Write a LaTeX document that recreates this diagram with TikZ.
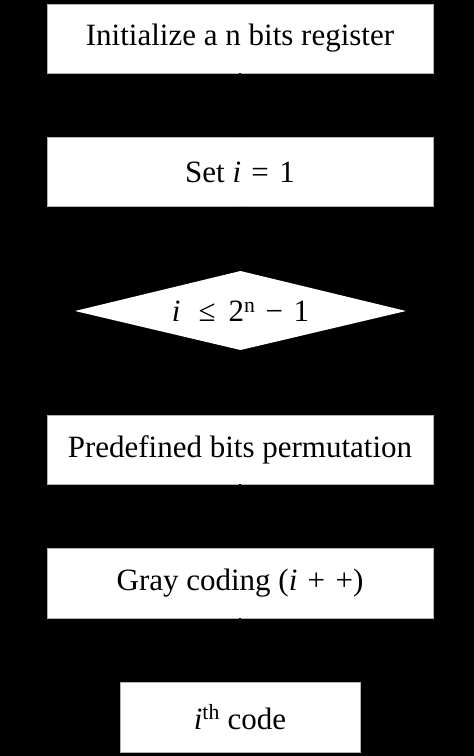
\documentclass[tikz,border=0pt]{standalone}
\usepackage{fontspec}
\setmainfont{Liberation Serif}
\usetikzlibrary{shapes.geometric,arrows.meta}
\begin{document}
\begin{tikzpicture}[x=1pt,y=-1pt,
  txt/.style={font=\fontsize{31}{36}\selectfont},
  box/.style={txt,fill=white,draw=gray!60,line width=0.6pt,inner sep=0pt},
  conn/.style={draw=black,line width=1.5pt,-{Stealth[length=8pt]}}]
\fill[black] (0,0) rectangle (474,756);
\useasboundingbox (0,0) rectangle (474,756);
\node[box,minimum width=386pt,minimum height=69pt] (init) at (240,38.5) {Initialize a n bits register};
\node[box,minimum width=386pt,minimum height=69pt] (set) at (240,172) {Set \textit{i}\,\,=\,\,1};
\path[fill=white] (240.5,271) -- (406,311) -- (240.5,350) -- (75,311) -- cycle;
\node[txt,inner sep=0pt] (cond) at (240.5,311) {\textit{i}\,\, ≤\, 2\textsuperscript{n}\,\,−\,\,1};
\coordinate (condtop) at (240.5,271);
\coordinate (condbot) at (240.5,350);
\node[box,minimum width=386pt,minimum height=69pt] (perm) at (240,449.5) {Predefined bits permutation};
\node[box,minimum width=386pt,minimum height=70pt] (gray) at (240,583) {Gray coding (\textit{i}\,\,+\,\,+)};
\node[box,minimum width=240pt,minimum height=70pt] (code) at (240,717) {\textit{i}\raisebox{1pt}{\textsuperscript{th}} code};
\draw[conn] (init) -- (set);
\draw[conn] (set) -- (condtop);
\draw[conn] (condbot) -- (perm);
\draw[conn] (perm) -- (gray);
\draw[conn] (gray) -- (code);
\end{tikzpicture}
\end{document}
